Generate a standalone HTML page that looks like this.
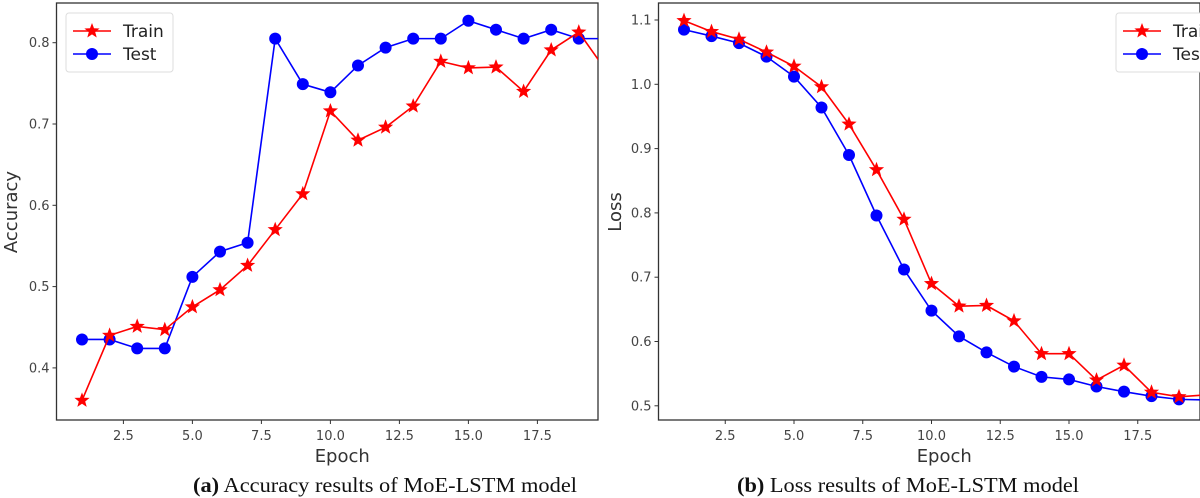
<!DOCTYPE html>
<html><head><meta charset="utf-8"><style>
body{margin:0;background:#fff;width:1200px;height:498px;overflow:hidden}
svg{display:block}
text{font-family:"DejaVu Sans","Liberation Sans",sans-serif}
.cap{font-family:"Liberation Serif",serif;font-size:21px;fill:#111}
</style></head><body>
<svg id="c" width="1200" height="498">
<defs>
<clipPath id="clipA"><rect x="56" y="3" width="542" height="417"/></clipPath>
<clipPath id="clipB"><rect x="659" y="3" width="541" height="417"/></clipPath>
</defs>
</svg>
<script>
const epochs=[1,2,3,4,5,6,7,8,9,10,11,12,13,14,15,16,17,18,19,20];
const accTrain=[0.36,0.44,0.451,0.447,0.475,0.496,0.526,0.57,0.614,0.716,0.68,0.696,0.722,0.777,0.769,0.77,0.74,0.791,0.813,0.765];
const accTest=[0.435,0.435,0.424,0.424,0.512,0.543,0.554,0.805,0.749,0.739,0.772,0.794,0.805,0.805,0.827,0.816,0.805,0.816,0.805,0.805];
const lossTrain=[1.099,1.082,1.07,1.05,1.028,0.996,0.938,0.867,0.79,0.69,0.655,0.656,0.632,0.581,0.581,0.54,0.563,0.521,0.514,0.517];
const lossTest=[1.085,1.075,1.064,1.043,1.012,0.964,0.89,0.796,0.712,0.648,0.608,0.583,0.561,0.545,0.541,0.53,0.522,0.515,0.51,0.509];
const xTicks=[2.5,5.0,7.5,10.0,12.5,15.0,17.5,20.0];
const accTicks=[0.4,0.5,0.6,0.7,0.8];
const lossTicks=[0.5,0.6,0.7,0.8,0.9,1.0,1.1];
const NS='http://www.w3.org/2000/svg';
const svg=document.getElementById('c');
function mk(tag,attrs,parent){const e=document.createElementNS(NS,tag);for(const k in attrs)e.setAttribute(k,attrs[k]);(parent||svg).appendChild(e);return e;}
function star(cx,cy,r){let p=[];for(let i=0;i<10;i++){const a=-Math.PI/2+i*Math.PI/5;const rr=i%2?r*0.42:r;p.push((cx+rr*Math.cos(a)).toFixed(1)+','+(cy+rr*Math.sin(a)).toFixed(1));}return p.join(' ');}
function panel(o){
  const sx=v=>o.x1+(v-1)*o.dx;
  const sy=v=>o.yRef+(o.vRef-v)*o.dy;
  const frame=mk('rect',{x:o.L,y:3,width:o.R-o.L,height:417,fill:'none',stroke:'#333','stroke-width':1.3});
  
  
  xTicks.forEach(t=>{const x=sx(t);if(x>o.R+2)return;
    mk('line',{x1:x,y1:420,x2:x,y2:424,stroke:'#333'});
    const tx=mk('text',{x:x,y:440,'font-size':13,fill:'#444','text-anchor':'middle'});tx.textContent=t.toFixed(1);
    
    });
  o.yt.forEach(t=>{const y=sy(t);
    mk('line',{x1:o.L-4,y1:y,x2:o.L,y2:y,stroke:'#333'});
    const tx=mk('text',{x:o.L-7,y:y+4.5,'font-size':13,fill:'#444','text-anchor':'end'});tx.textContent=t.toFixed(1);
    
    });
  const xl=mk('text',{x:(o.L+o.R)/2+15,y:462,'font-size':18,fill:'#333','text-anchor':'middle'});xl.textContent='Epoch';
  
  
  const yl=mk('text',{x:o.ylx,y:212,'font-size':18,fill:'#333','text-anchor':'middle',transform:`rotate(-90 ${o.ylx} 212)`});yl.textContent=o.ylab;
  
  
  const g=mk('g',{'clip-path':`url(#${o.clip})`});
  [[o.test,'#0000ff','dot'],[o.train,'#ff0000','star']].forEach(([d,c,m])=>{
    const pl=mk('polyline',{points:d.map((v,i)=>sx(epochs[i])+','+sy(v)).join(' '),fill:'none',stroke:c,'stroke-width':1.6},g);
    
    
    d.forEach((v,i)=>{const x=sx(epochs[i]),y=sy(v);
      const mm=m==='star'?mk('polygon',{points:star(x,y,8),fill:c},g):mk('circle',{cx:x,cy:y,r:6,fill:c},g);
      
      });
  });
  const lg=mk('g',{});
  
  
  mk('rect',{x:o.lgx,y:13,width:107,height:59,rx:3,fill:'#fff',stroke:'#ddd'},lg);
  mk('line',{x1:o.lgx+7,y1:31,x2:o.lgx+45,y2:31,stroke:'#ff0000','stroke-width':1.6},lg);
  mk('polygon',{points:star(o.lgx+26,31,8),fill:'#ff0000'},lg);
  mk('line',{x1:o.lgx+7,y1:54,x2:o.lgx+45,y2:54,stroke:'#0000ff','stroke-width':1.6},lg);
  mk('circle',{cx:o.lgx+26,cy:54,r:6,fill:'#0000ff'},lg);
  const t1=mk('text',{x:o.lgx+57,y:37,'font-size':17,fill:'#222'},lg);t1.textContent='Train';
  
  
  const t2=mk('text',{x:o.lgx+57,y:60,'font-size':17,fill:'#222'},lg);t2.textContent='Test';
  
  
}
panel({id:'accuracy',L:56.5,R:598,x1:82,dx:27.6,yRef:42.7,vRef:0.8,dy:813,yt:accTicks,ylab:'Accuracy',ylx:17,clip:'clipA',train:accTrain,test:accTest,lgx:66});
panel({id:'loss',L:658.5,R:1200,x1:684,dx:27.5,yRef:20,vRef:1.1,dy:643,yt:lossTicks,ylab:'Loss',ylx:621,clip:'clipB',train:lossTrain,test:lossTest,lgx:1116});
</script>
<svg style="position:absolute;left:0;top:0" width="1200" height="498">
<text class="cap" x="193" y="492" textLength="384" lengthAdjust="spacingAndGlyphs"><tspan font-weight="bold">(a)</tspan> Accuracy results of MoE-LSTM model</text>
<text class="cap" x="737" y="492" textLength="342" lengthAdjust="spacingAndGlyphs"><tspan font-weight="bold">(b)</tspan> Loss results of MoE-LSTM model</text>
</svg>
</body></html>
